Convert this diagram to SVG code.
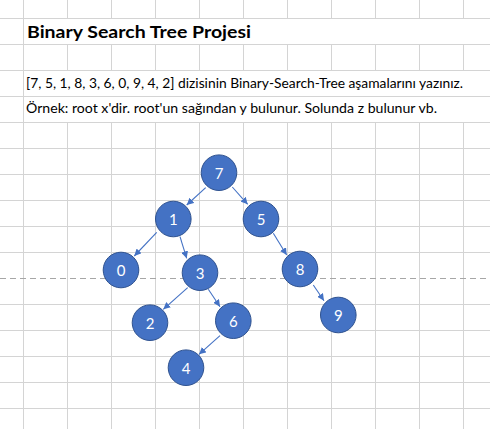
<svg xmlns="http://www.w3.org/2000/svg" width="490" height="429" viewBox="0 0 490 429">
<style>
.grid{stroke:#d4d4d4;stroke-width:1;fill:none}
.dash{stroke:#a6a6a6;stroke-width:1;stroke-dasharray:6,4;fill:none}
.title{font-family:Lato,"Open Sans","Liberation Sans",sans-serif;font-weight:bold;font-size:17px;fill:#000}
.txt{font-family:Lato,"Open Sans","Liberation Sans",sans-serif;font-size:14px;fill:#000}
.node circle{fill:#4472C4;stroke:#2F528F;stroke-width:1}
.node text{font-family:Lato,"Open Sans","Liberation Sans",sans-serif;font-size:15px;fill:#fff;text-anchor:middle;dominant-baseline:central}
.edge{stroke:#4472C4;stroke-width:1.1;fill:none;marker-end:url(#ah)}
</style>
<defs>
<marker id="ah" viewBox="0 0 10 10" refX="10" refY="5" markerWidth="7" markerHeight="7" markerUnits="userSpaceOnUse" orient="auto">
<path d="M0,0 L10,5 L0,10 z" fill="#4472C4"/>
</marker>
</defs>
<rect width="490" height="429" fill="#fff"/>
<g id="grid">
<path class="grid" d="M23.5,0 V429"/>
<path class="grid" d="M67.5,0 V18 M67.5,44 V70 M67.5,122 V429
M111.5,0 V18 M111.5,44 V70 M111.5,122 V429
M155.5,0 V18 M155.5,44 V70 M155.5,122 V429
M199.5,0 V18 M199.5,44 V70 M199.5,122 V429
M243.5,0 V18 M243.5,44 V70 M243.5,122 V429
M287.5,0 V18 M287.5,44 V70 M287.5,122 V429
M331.5,0 V18 M331.5,44 V70 M331.5,122 V429
M375.5,0 V18 M375.5,44 V70 M375.5,122 V429
M419.5,0 V18 M419.5,44 V70 M419.5,122 V429
M463.5,0 V18 M463.5,44 V70 M463.5,122 V429"/>
<path class="grid" d="M0,18.5 H490 M0,44.5 H490 M0,70.5 H490 M0,96.5 H490 M0,122.5 H490 M0,148.5 H490 M0,174.5 H490 M0,200.5 H490 M0,226.5 H490 M0,252.5 H490 M0,304.5 H490 M0,330.5 H490 M0,356.5 H490 M0,382.5 H490 M0,408.5 H490"/>
<path class="dash" d="M0,278.5 H490"/>
</g>
<g id="texts">
<text class="title" x="27" y="38" textLength="224" lengthAdjust="spacingAndGlyphs">Binary Search Tree Projesi</text>
<text class="txt" x="26" y="88" textLength="437" lengthAdjust="spacingAndGlyphs">[7, 5, 1, 8, 3, 6, 0, 9, 4, 2] dizisinin Binary-Search-Tree aşamalarını yazınız.</text>
<text class="txt" x="26" y="113" textLength="411" lengthAdjust="spacingAndGlyphs">Örnek: root x'dir. root'un sağından y bulunur. Solunda z bulunur vb.</text>
</g>
<g id="connectors">
<path class="edge" d="M205.7,187.7 L186.7,205"/>
<path class="edge" d="M232.3,187 L247.7,204.3"/>
<path class="edge" d="M156.7,232.3 L134.3,256"/>
<path class="edge" d="M180,236.7 L186.7,258.3"/>
<path class="edge" d="M273.3,233.3 L286.7,255"/>
<path class="edge" d="M313.3,285 L324,300.7"/>
<path class="edge" d="M187.7,287.7 L163.3,309.3"/>
<path class="edge" d="M208.3,289.3 L220,306.7"/>
<path class="edge" d="M220,335.7 L199,354.3"/>
</g>
<g id="n7" class="node"><circle cx="219" cy="172.7" r="17.8"/><text x="219" y="172.7">7</text></g>
<g id="n1" class="node"><circle cx="173.3" cy="219" r="17.8"/><text x="173.3" y="219">1</text></g>
<g id="n5" class="node"><circle cx="261" cy="219" r="17.8"/><text x="261" y="219">5</text></g>
<g id="n0" class="node"><circle cx="121" cy="270" r="17.8"/><text x="121" y="270">0</text></g>
<g id="n3" class="node"><circle cx="200" cy="272.7" r="17.8"/><text x="200" y="272.7">3</text></g>
<g id="n8" class="node"><circle cx="300" cy="269" r="17.8"/><text x="300" y="269">8</text></g>
<g id="n2" class="node"><circle cx="150" cy="322.7" r="17.8"/><text x="150" y="322.7">2</text></g>
<g id="n6" class="node"><circle cx="233.3" cy="320.7" r="17.8"/><text x="233.3" y="320.7">6</text></g>
<g id="n9" class="node"><circle cx="338.3" cy="315" r="17.8"/><text x="338.3" y="315">9</text></g>
<g id="n4" class="node"><circle cx="186" cy="367.7" r="17.8"/><text x="186" y="367.7">4</text></g>
</svg>
